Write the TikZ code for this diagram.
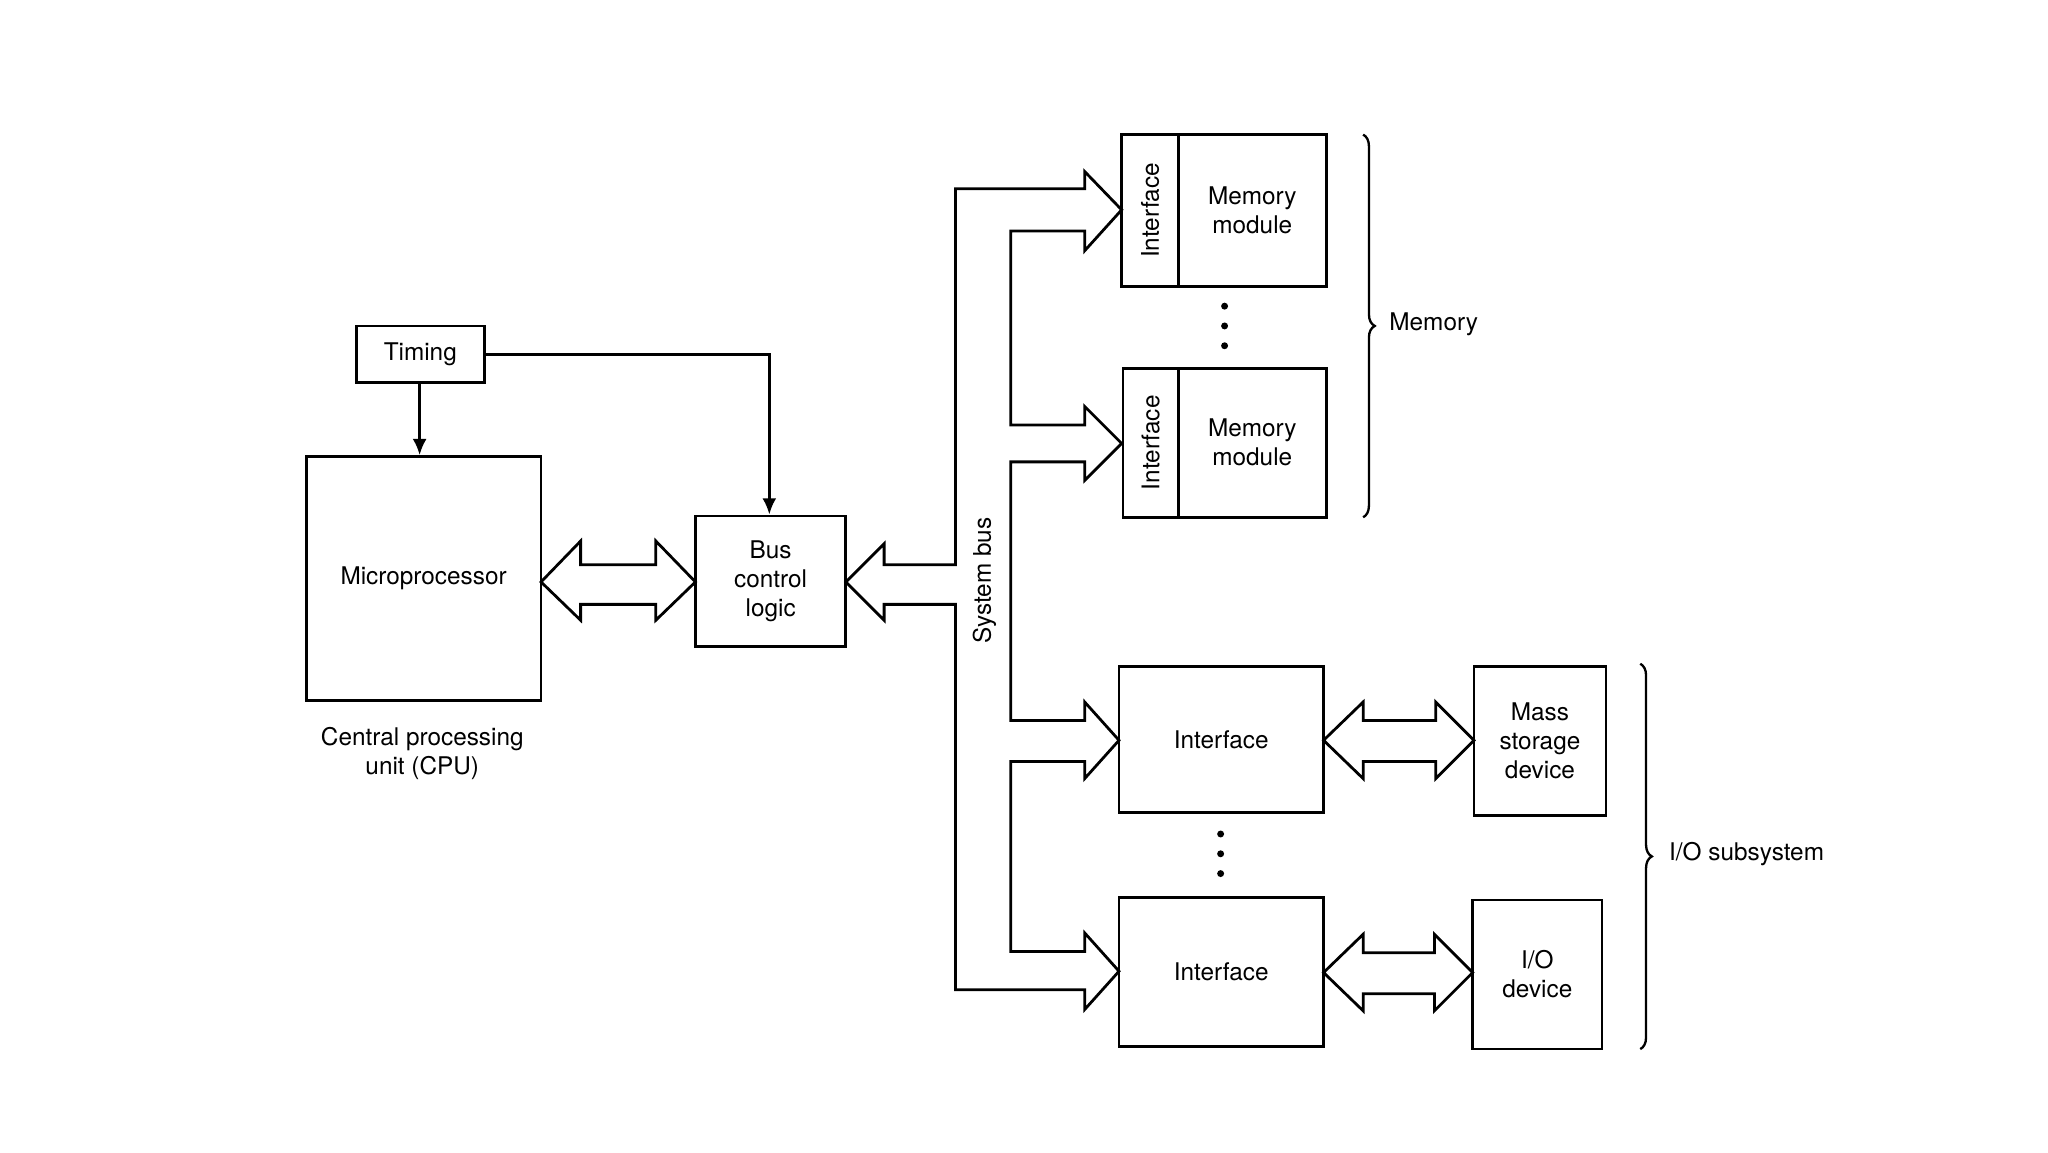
\documentclass[tikz,border=0pt]{standalone}
\usepackage{fontspec}
\setmainfont{TeX Gyre Heros}
\usetikzlibrary{decorations.pathreplacing,arrows.meta}
\begin{document}
\begin{tikzpicture}[x=0.02cm,y=-0.02cm,
  line width=1.2pt,
  box/.style={draw,line width=1.2pt,align=center,inner sep=0pt,font=\fontsize{10.5}{12.5}\selectfont},
  lbl/.style={align=center,font=\fontsize{10.5}{12.5}\selectfont},
  dot/.style={circle,fill,inner sep=0pt,minimum size=3pt},
  brc/.style={decorate,decoration={brace,amplitude=5pt},line width=1pt}]
\useasboundingbox (0,0) rectangle (1552,873);
\node[box,minimum width=1.94cm,minimum height=0.86cm] (tim) at (318.5,268.5) {Timing};
\node[box,minimum width=3.56cm,minimum height=3.7cm] (mp) at (321,438.5) {Microprocessor};
\node[box,minimum width=2.28cm,minimum height=1.98cm] (bcl) at (584,440.5) {Bus\\control\\logic};
\node[lbl] (cpu) at (320,571) {Central processing\\unit (CPU)};
\node[box,minimum width=0.86cm,minimum height=2.3cm] (if1) at (871.5,159.5) {\rotatebox{90}{Interface}};
\node[box,minimum width=2.24cm,minimum height=2.3cm] (mm1) at (949,159.5) {Memory\\module};
\node[box,minimum width=0.84cm,minimum height=2.26cm] (if2) at (872,335.5) {\rotatebox{90}{Interface}};
\node[box,minimum width=2.24cm,minimum height=2.26cm] (mm2) at (949,335.5) {Memory\\module};
\node[box,minimum width=3.1cm,minimum height=2.22cm] (in1) at (925.5,560.5) {Interface};
\node[box,minimum width=2.0cm,minimum height=2.26cm] (ms) at (1167,561.5) {Mass\\storage\\device};
\node[box,minimum width=3.1cm,minimum height=2.26cm] (in2) at (925.5,736.5) {Interface};
\node[box,minimum width=1.96cm,minimum height=2.26cm] (io) at (1165,738.5) {I/O\\device};
\foreach \y in {232,247,262} \node[dot] at (928,\y) {};
\foreach \y in {632,647,662} \node[dot] at (925,\y) {};
\draw[-{Latex[length=7pt,width=6pt]}] (tim.south -| 318,0) -- (mp.north -| 318,0);
\draw[-{Latex[length=7pt,width=6pt]}] (tim.east) -- (583,268.5) -- (bcl.north -| 583,0);
% system bus
\draw[line join=miter] (670,428)--(724,428)--(724,143)--(822,143)--(822,130)--(850,159)--(822,190)--(822,175)--(766,175)--(766,322)--(822,322)--(822,308)--(850,336)--(822,364)--(822,350)--(766,350)--(766,546)--(822,546)--(822,532)--(848,561)--(822,590)--(822,577)--(766,577)--(766,721)--(822,721)--(822,707)--(848,736)--(822,765)--(822,750)--(724,750)--(724,458)--(670,458)--(670,470)--(641,441)--(670,412)--cycle;
\node[lbl,rotate=90] (sb) at (746,440) {System bus};
% double arrows
\draw (410,441)--(440,410)--(440,428)--(497,428)--(497,410)--(527,441)--(497,470)--(497,458)--(440,458)--(440,470)--cycle;
\draw (1003,561)--(1033,532)--(1033,546)--(1088,546)--(1088,532)--(1117,561)--(1088,590)--(1088,577)--(1033,577)--(1033,590)--cycle;
\draw (1003,737)--(1033,708)--(1033,722)--(1087,722)--(1087,708)--(1116,737)--(1087,766)--(1087,753)--(1033,753)--(1033,766)--cycle;
% braces
\draw[brc] (1033,102) -- (1033,392);
\node[lbl,anchor=west] (mem) at (1046,246) {Memory};
\draw[brc] (1243,503) -- (1243,795);
\node[lbl,anchor=west] (ios) at (1258,647) {I/O subsystem};
\end{tikzpicture}
\end{document}
